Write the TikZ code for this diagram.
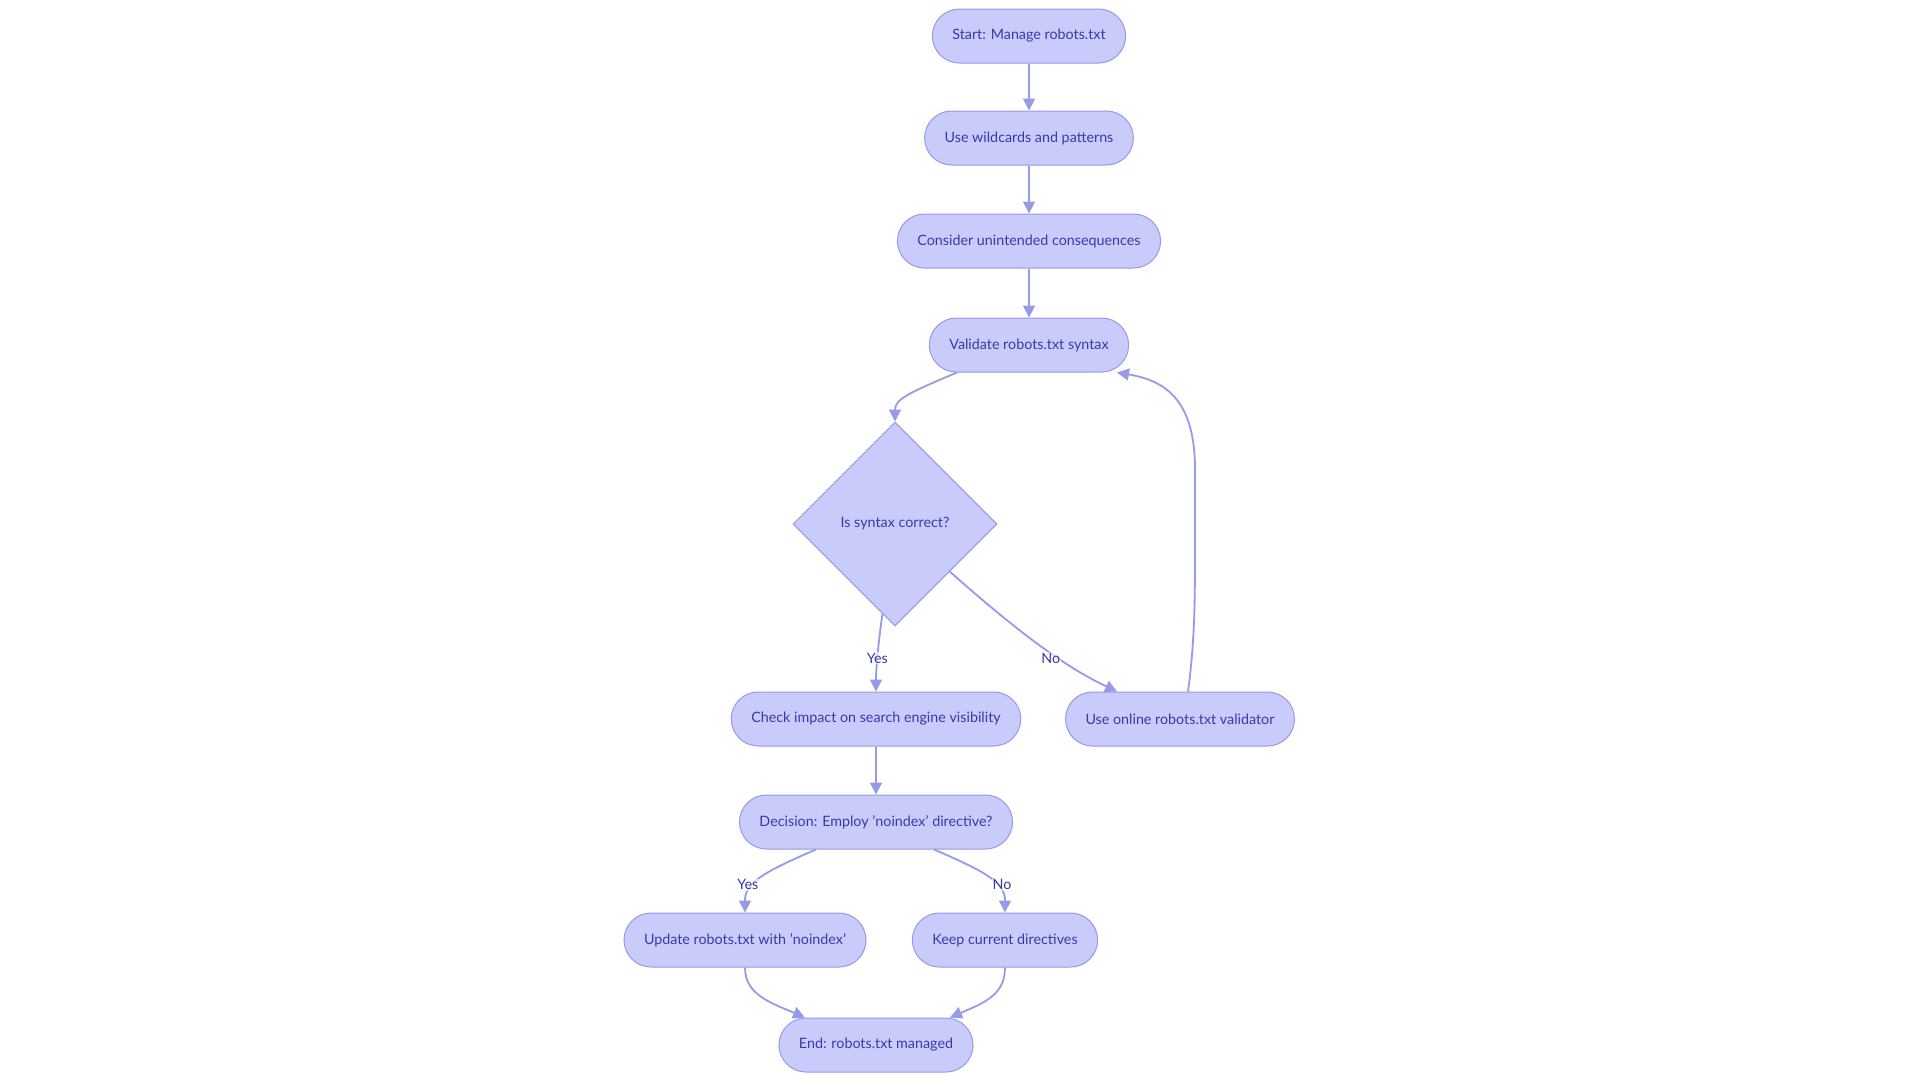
\documentclass[tikz,border=0pt]{standalone}
\usepackage{fontspec}
\setmainfont{Lato}
\usetikzlibrary{shapes.geometric,arrows.meta}
\definecolor{boxfill}{RGB}{201,203,250}
\definecolor{boxline}{RGB}{150,154,232}
\definecolor{boxtext}{RGB}{57,57,170}
\tikzset{
  stage/.style={draw=boxline, line width=1pt, fill=boxfill, text=boxtext,
    rounded corners=27pt, minimum height=54pt, inner xsep=20pt,
    font=\fontsize{14.3}{17}\selectfont},
  query/.style={diamond, draw=boxline, line width=1pt, fill=boxfill, text=boxtext,
    minimum width=204pt, minimum height=204pt, inner sep=0pt,
    font=\fontsize{14.3}{17}\selectfont},
  flow/.style={draw=boxline, line width=1.8pt, -{Triangle[length=12pt,width=12pt]}},
  tag/.style={text=boxtext, fill=white, fill opacity=0.6, text opacity=1,
    inner sep=1pt, font=\fontsize{14.3}{17}\selectfont}
}
\begin{document}
\begin{tikzpicture}[x=1pt,y=-1pt]
	\fill[white] (0,0) rectangle (1920,1080);
	\useasboundingbox (0,0) rectangle (1920,1080);
	% main column
	\node[stage] (start) at (1029,36) {Start: Manage robots.txt};
	\node[stage] (wild) at (1029,138) {Use wildcards and patterns};
	\node[stage] (cons) at (1029,241) {Consider unintended consequences};
	\node[stage] (val) at (1029,345) {Validate robots.txt syntax};
	\node[query] (syn) at (895,524) {Is syntax correct?};
	\node[stage] (chk) at (876,719) {Check impact on search engine visibility};
	\node[stage] (vld) at (1180,719) {Use online robots.txt validator};
	\node[stage] (dcs) at (876,822) {Decision: Employ 'noindex' directive?};
	\node[stage] (upd) at (745,940) {Update robots.txt with 'noindex'};
	\node[stage] (keep) at (1005,940) {Keep current directives};
	\node[stage] (fin) at (876,1045) {End: robots.txt managed};
	% connectors
	\draw[flow] (start) -- (wild);
	\draw[flow] (wild) -- (cons);
	\draw[flow] (cons) -- (val);
	\draw[flow] ([xshift=-72pt]val.south) .. controls +(-50,21) and +(0,-22) .. (syn.north);
	\draw[flow] (syn.-98) .. controls +(-4,30) and +(0,-25) .. (chk.north)
		node[tag, pos=0.55] {Yes};
	\draw[flow] (syn.-41) .. controls +(60,53) and +(-57,-27) .. ([xshift=-63pt]vld.north)
		node[tag, pos=0.6, yshift=-5pt] {No};
	\draw[flow] ([xshift=8pt]vld.north) .. controls +(7,-52) and +(0,60) .. ++(7,-152)
		-- ++(0,-70) .. controls +(0,-70) and +(48,8) .. ([xshift=88pt]val.south);
	\draw[flow] (chk) -- (dcs);
	\draw[flow] ([xshift=-60pt]dcs.south) .. controls +(-56,24) and +(0,-29) .. (upd.north)
		node[tag, pos=0.6, xshift=-6pt] {Yes};
	\draw[flow] ([xshift=58pt]dcs.south) .. controls +(56,24) and +(0,-29) .. (keep.north)
		node[tag, pos=0.6, xshift=6pt] {No};
	\draw[flow] (upd.south) .. controls +(0,27) and +(-35,-15) .. ([xshift=-71pt]fin.north);
	\draw[flow] (keep.south) .. controls +(0,27) and +(35,-15) .. ([xshift=74pt]fin.north);
\end{tikzpicture}
\end{document}
